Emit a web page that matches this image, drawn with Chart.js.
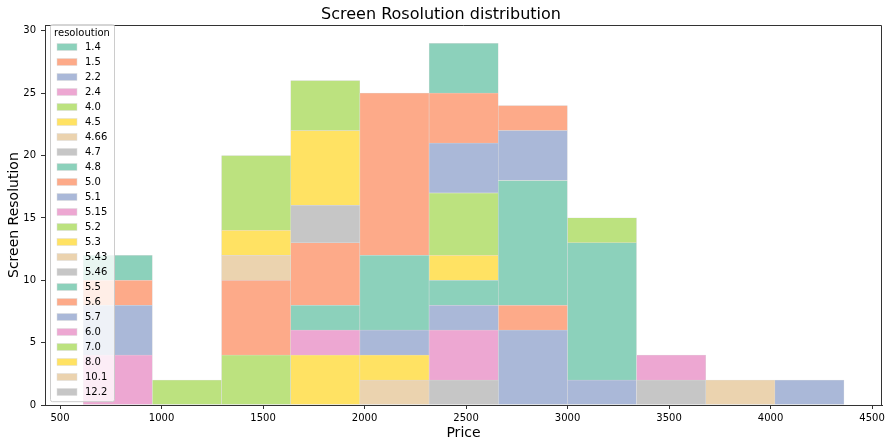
<!DOCTYPE html>
<html>
<head>
<meta charset="utf-8">
<script src="https://cdn.jsdelivr.net/npm/chart.js@4"></script>
<style>
  body { margin: 0; background: #fff; }
  #wrap { width: 892px; height: 447px; }
</style>
</head>
<body>
<div id="wrap"><canvas id="myChart"></canvas></div>
<script>
// histogram bin edges (price)
var binEdges = [614, 955, 1296, 1636, 1977, 2318, 2659, 2999, 3340, 3681, 4021, 4362];
var xTicks = [500, 1000, 1500, 2000, 2500, 3000, 3500, 4000, 4500];
var yTicks = [0, 5, 10, 15, 20, 25, 30];

// counts per bin for each resolution value
var r1_4  = [0, 0, 0, 0, 0, 0, 0, 0, 0, 0, 0];
var r1_5  = [0, 0, 0, 0, 0, 0, 0, 0, 0, 0, 0];
var r2_2  = [0, 0, 0, 0, 0, 0, 0, 0, 0, 0, 0];
var r2_4  = [0, 0, 0, 0, 0, 0, 0, 0, 0, 0, 0];
var r4_0  = [0, 0, 0, 4, 0, 0, 0, 0, 0, 0, 0];
var r4_5  = [0, 0, 0, 6, 0, 0, 0, 0, 0, 0, 0];
var r4_66 = [0, 0, 0, 0, 0, 0, 0, 0, 0, 0, 0];
var r4_7  = [0, 0, 0, 3, 0, 0, 0, 0, 0, 0, 0];
var r4_8  = [0, 0, 0, 0, 0, 4, 0, 0, 0, 0, 0];
var r5_0  = [0, 0, 0, 5, 13, 4, 2, 0, 0, 0, 0];
var r5_1  = [0, 0, 0, 0, 0, 4, 4, 0, 0, 0, 0];
var r5_15 = [0, 0, 0, 0, 0, 0, 0, 0, 0, 0, 0];
var r5_2  = [0, 0, 6, 0, 0, 5, 0, 2, 0, 0, 0];
var r5_3  = [0, 0, 2, 0, 0, 2, 0, 0, 0, 0, 0];
var r5_43 = [0, 0, 2, 0, 0, 0, 0, 0, 0, 0, 0];
var r5_46 = [0, 0, 0, 0, 0, 0, 0, 0, 0, 0, 0];
var r5_5  = [2, 0, 0, 2, 6, 2, 10, 11, 0, 0, 0];
var r5_6  = [2, 0, 6, 0, 0, 0, 2, 0, 0, 0, 0];
var r5_7  = [4, 0, 0, 0, 2, 2, 6, 2, 0, 0, 2];
var r6_0  = [4, 0, 0, 2, 0, 4, 0, 0, 2, 0, 0];
var r7_0  = [0, 2, 4, 0, 0, 0, 0, 0, 0, 0, 0];
var r8_0  = [0, 0, 0, 4, 2, 0, 0, 0, 0, 0, 0];
var r10_1 = [0, 0, 0, 0, 2, 0, 0, 0, 0, 2, 0];
var r12_2 = [0, 0, 0, 0, 0, 2, 0, 0, 2, 0, 0];

var hueLabels = ['1.4', '1.5', '2.2', '2.4', '4.0', '4.5', '4.66', '4.7', '4.8', '5.0', '5.1', '5.15',
                 '5.2', '5.3', '5.43', '5.46', '5.5', '5.6', '5.7', '6.0', '7.0', '8.0', '10.1', '12.2'];
var hueCounts = [r1_4, r1_5, r2_2, r2_4, r4_0, r4_5, r4_66, r4_7, r4_8, r5_0, r5_1, r5_15,
                 r5_2, r5_3, r5_43, r5_46, r5_5, r5_6, r5_7, r6_0, r7_0, r8_0, r10_1, r12_2];

// Set2 at alpha .75 over white
var palette = ['rgb(140,209,187)', 'rgb(253,170,137)', 'rgb(170,184,216)', 'rgb(237,167,210)',
               'rgb(188,226,127)', 'rgb(255,226,99)', 'rgb(235,211,175)', 'rgb(198,198,198)'];
var edgeColor = 'rgb(222,222,222)';
var font = 'DejaVu Sans';

var centers = [];
for (var i = 0; i < binEdges.length - 1; i++) centers.push((binEdges[i] + binEdges[i + 1]) / 2);

// last hue sits at the bottom of the stack, so add datasets in reverse
var datasets = [];
for (var h = hueLabels.length - 1; h >= 0; h--) {
  datasets.push({
    label: hueLabels[h],
    data: hueCounts[h].map(function (v, k) { return {x: centers[k], y: v === 0 ? null : v}; }),
    backgroundColor: palette[h % palette.length],
    borderColor: edgeColor,
    borderWidth: 0.5,
    borderSkipped: false,
    barPercentage: 1,
    categoryPercentage: 1
  });
}

var boxPlugin = {
  id: 'box',
  afterDraw: function (chart) {
    var ctx = chart.ctx, a = chart.chartArea;
    ctx.save();
    // top and right spines
    ctx.strokeStyle = '#333';
    ctx.lineWidth = 1;
    ctx.beginPath();
    ctx.moveTo(a.left, Math.round(a.top) + 0.5);
    ctx.lineTo(Math.round(a.right) - 0.5, Math.round(a.top) + 0.5);
    ctx.lineTo(Math.round(a.right) - 0.5, a.bottom);
    ctx.stroke();

    // legend
    var L = a.left + 5, T = a.top - 1, R = L + 64, B = T + 377;
    ctx.fillStyle = 'rgba(255,255,255,0.8)';
    ctx.strokeStyle = 'rgb(204,204,204)';
    ctx.beginPath();
    ctx.roundRect(L + 0.5, T + 0.5, R - L, B - T, 2);
    ctx.fill();
    ctx.stroke();
    ctx.fillStyle = '#000';
    ctx.font = '10px "' + font + '"';
    ctx.textBaseline = 'middle';
    ctx.textAlign = 'center';
    ctx.fillText('resoloution', (L + R) / 2, T + 9);
    ctx.textAlign = 'left';
    for (var i = 0; i < hueLabels.length; i++) {
      var y = T + 22.8 + i * 15.0;
      ctx.fillStyle = palette[i % palette.length];
      ctx.fillRect(L + 7, y - 3.5, 20, 7);
      ctx.strokeStyle = edgeColor;
      ctx.lineWidth = 0.5;
      ctx.strokeRect(L + 7, y - 3.5, 20, 7);
      ctx.fillStyle = '#000';
      ctx.fillText(hueLabels[i], L + 35, y);
    }
    ctx.restore();
  }
};

var ctx = document.getElementById('myChart').getContext('2d');
var myChart = new Chart(ctx, {
  type: 'bar',
  data: { datasets: datasets },
  plugins: [boxPlugin],
  options: {
    responsive: true,
    maintainAspectRatio: false,
    animation: false,
    layout: { padding: { left: 0, right: 10, top: 0, bottom: 0 } },
    plugins: {
      legend: { display: false },
      tooltip: { enabled: false },
      title: {
        display: true,
        text: 'Screen Rosolution distribution',
        color: '#000',
        font: { family: font, size: 16, weight: 'normal' },
        padding: { top: 5, bottom: 1 }
      }
    },
    scales: {
      x: {
        type: 'linear',
        stacked: true,
        min: 426,
        max: 4549,
        offset: false,
        afterBuildTicks: function (s) { s.ticks = xTicks.map(function (v) { return {value: v}; }); },
        afterFit: function (s) { s.height = 42; },
        ticks: {
          color: '#000', font: { family: font, size: 10 }, padding: 3, maxRotation: 0,
          callback: function (v) { return String(v); }
        },
        grid: { display: true, offset: false, drawOnChartArea: false, drawTicks: true, tickLength: 4, tickColor: '#333' },
        border: { display: true, color: '#333', width: 1 },
        title: { display: true, text: 'Price', color: '#000', font: { family: font, size: 14 }, padding: { top: 0, bottom: 5.6 } }
      },
      y: {
        stacked: true,
        min: 0,
        max: 30.45,
        afterBuildTicks: function (s) { s.ticks = yTicks.map(function (v) { return {value: v}; }); },
        afterFit: function (s) { s.width = 45; },
        ticks: { color: '#000', font: { family: font, size: 10 }, padding: 5 },
        grid: { display: true, offset: false, drawOnChartArea: false, drawTicks: true, tickLength: 4, tickColor: '#333' },
        border: { display: true, color: '#333', width: 1 },
        title: { display: true, text: 'Screen Resolution', color: '#000', font: { family: font, size: 14 }, padding: { top: 5.6, bottom: 0 } }
      }
    }
  }
});
</script>
</body>
</html>
